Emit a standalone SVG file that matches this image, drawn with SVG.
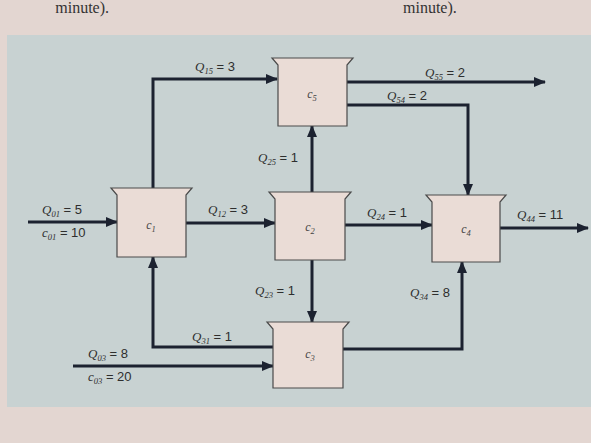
<svg xmlns="http://www.w3.org/2000/svg" width="591" height="443" viewBox="0 0 591 443">
<defs>
<marker id="ah" markerUnits="userSpaceOnUse" markerWidth="12" markerHeight="10" refX="11" refY="5" orient="auto">
<path d="M0,0 L12,5 L0,10 Z" fill="#1c2230"/>
</marker>
<style>
.bg{fill:#e3d6d1}
.panel{fill:#c8d2d2}
.tank{fill:#eadcd6;stroke:#4a4a4a;stroke-width:1.2}
.flow{fill:none;stroke:#1c2230;stroke-width:3;marker-end:url(#ah)}
.lbl{font-family:"Liberation Sans",Arial,sans-serif;font-size:13px;fill:#2e2e2e}
.v{font-family:"Liberation Serif","Times New Roman",serif;font-style:italic}
.sub{font-size:8.5px}
.tl{font-family:"Liberation Serif","Times New Roman",serif;font-style:italic;font-size:12px;fill:#444;text-anchor:middle}
.page{font-family:"Liberation Serif","Times New Roman",serif;font-size:16px;fill:#333}
</style>
</defs>
<rect class="bg" x="0" y="0" width="591" height="443"/>
<text class="page" x="109" y="13" text-anchor="end">minute).</text>
<text class="page" x="403" y="13">minute).</text>
<rect class="panel" x="7" y="35" width="584" height="372"/>

<g id="connectors">
<path id="q15" class="flow" d="M153,188 V79 H277"/>
<path id="q55" class="flow" d="M347,82 H545"/>
<path id="q54" class="flow" d="M347,105 H468 V195"/>
<path id="q25" class="flow" d="M312,192 V126"/>
<path id="q01" class="flow" d="M28,222 H117"/>
<path id="q12" class="flow" d="M186,223 H275"/>
<path id="q24" class="flow" d="M345,225 H432"/>
<path id="q44" class="flow" d="M500,228 H588"/>
<path id="q23" class="flow" d="M312,260 V322"/>
<path id="q31" class="flow" d="M273,347 H153 V257"/>
<path id="q34" class="flow" d="M343,349 H462 V262"/>
<path id="q03" class="flow" d="M73,366 H273"/>
</g>

<g id="labels">
<text class="lbl" x="195" y="71"><tspan class="v">Q</tspan><tspan class="v sub" dy="3">15</tspan><tspan dy="-3"> = 3</tspan></text>
<text class="lbl" x="425" y="77"><tspan class="v">Q</tspan><tspan class="v sub" dy="3">55</tspan><tspan dy="-3"> = 2</tspan></text>
<text class="lbl" x="387" y="100"><tspan class="v">Q</tspan><tspan class="v sub" dy="3">54</tspan><tspan dy="-3"> = 2</tspan></text>
<text class="lbl" x="258" y="162"><tspan class="v">Q</tspan><tspan class="v sub" dy="3">25</tspan><tspan dy="-3"> = 1</tspan></text>
<text class="lbl" x="42" y="214"><tspan class="v">Q</tspan><tspan class="v sub" dy="3">01</tspan><tspan dy="-3"> = 5</tspan></text>
<text class="lbl" x="42" y="237"><tspan class="v">c</tspan><tspan class="v sub" dy="3">01</tspan><tspan dy="-3"> = 10</tspan></text>
<text class="lbl" x="208" y="214"><tspan class="v">Q</tspan><tspan class="v sub" dy="3">12</tspan><tspan dy="-3"> = 3</tspan></text>
<text class="lbl" x="367" y="217"><tspan class="v">Q</tspan><tspan class="v sub" dy="3">24</tspan><tspan dy="-3"> = 1</tspan></text>
<text class="lbl" x="517" y="219"><tspan class="v">Q</tspan><tspan class="v sub" dy="3">44</tspan><tspan dy="-3"> = 11</tspan></text>
<text class="lbl" x="255" y="295"><tspan class="v">Q</tspan><tspan class="v sub" dy="3">23</tspan><tspan dy="-3"> = 1</tspan></text>
<text class="lbl" x="410" y="297"><tspan class="v">Q</tspan><tspan class="v sub" dy="3">34</tspan><tspan dy="-3"> = 8</tspan></text>
<text class="lbl" x="192" y="341"><tspan class="v">Q</tspan><tspan class="v sub" dy="3">31</tspan><tspan dy="-3"> = 1</tspan></text>
<text class="lbl" x="88" y="358"><tspan class="v">Q</tspan><tspan class="v sub" dy="3">03</tspan><tspan dy="-3"> = 8</tspan></text>
<text class="lbl" x="88" y="381"><tspan class="v">c</tspan><tspan class="v sub" dy="3">03</tspan><tspan dy="-3"> = 20</tspan></text>
</g>

<g id="tank5">
<path class="tank" d="M272,58 H353 L347,65 V126 H278 V65 Z"/>
<text class="tl" x="312" y="98">c<tspan class="sub" dy="3">5</tspan></text>
</g>
<g id="tank1">
<path class="tank" d="M111,188 H192 L186,195 V257 H117 V195 Z"/>
<text class="tl" x="151" y="229">c<tspan class="sub" dy="3">1</tspan></text>
</g>
<g id="tank2">
<path class="tank" d="M269,192 H351 L345,199 V260 H275 V199 Z"/>
<text class="tl" x="310" y="231">c<tspan class="sub" dy="3">2</tspan></text>
</g>
<g id="tank4">
<path class="tank" d="M426,195 H506 L500,202 V262 H432 V202 Z"/>
<text class="tl" x="466" y="233">c<tspan class="sub" dy="3">4</tspan></text>
</g>
<g id="tank3">
<path class="tank" d="M267,322 H349 L343,329 V388 H273 V329 Z"/>
<text class="tl" x="310" y="358">c<tspan class="sub" dy="3">3</tspan></text>
</g>
</svg>
